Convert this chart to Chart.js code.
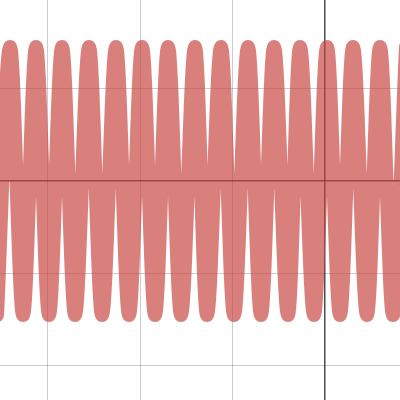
<!DOCTYPE html>
<html>
<head>
<meta charset="utf-8">
<script src="https://cdn.jsdelivr.net/npm/chart.js@4"></script>
<style>
  html, body { margin: 0; padding: 0; background: #fff; }
  #wrap { width: 400px; height: 400px; }
</style>
</head>
<body>
<div id="wrap"><canvas id="plot"></canvas></div>
<script>
// extremes of the wave (x in grid units, y in grid units)
const extremeX = [-3.546, -3.405, -3.265, -3.124, -2.984, -2.843, -2.703, -2.551,
  -2.411, -2.259, -2.119, -1.978, -1.838, -1.697, -1.557, -1.405, -1.276, -1.124,
  -0.984, -0.832, -0.692, -0.551, -0.400, -0.270, -0.119, 0.022, 0.162, 0.303,
  0.454, 0.595, 0.735, 0.876];
const extremeY = [-1.45, 1.45, -1.45, 1.45, -1.45, 1.45, -1.45, 1.45,
  -1.45, 1.45, -1.45, 1.45, -1.45, 1.45, -1.45, 1.45, -1.45, 1.45,
  -1.45, 1.45, -1.45, 1.45, -1.45, 1.45, -1.45, 1.45, -1.45, 1.45,
  -1.45, 1.45, -1.45, 1.45];

// visible window and grid lines
const xRange = [-3.514, 0.811];
const yRange = [-2.368, 1.957];
const xGrid = [-3, -2, -1, 0];
const yGrid = [-2, -1, 0, 1];

const points = extremeX.map((x, i) => ({ x: x, y: extremeY[i] }));

const gridColor = ctx => ctx.tick && ctx.tick.value === 0 ? 'rgba(0,0,0,0.7)' : 'rgba(0,0,0,0.2)';
const gridWidth = ctx => ctx.tick && ctx.tick.value === 0 ? 1.5 : 1;

new Chart(document.getElementById('plot'), {
    type: 'line',
    data: {
        datasets: [{
            data: points,
            borderColor: 'rgba(199, 68, 64, 0.68)',
            borderWidth: 14,
            borderCapStyle: 'round',
            borderJoinStyle: 'round',
            cubicInterpolationMode: 'monotone',
            pointRadius: 0,
            fill: false
        }]
    },
    options: {
        responsive: true, maintainAspectRatio: false,
        animation: false,
        layout: { padding: 0 },
        plugins: { legend: { display: false }, tooltip: { enabled: false } },
        scales: {
            x: {
                type: 'linear', min: xRange[0], max: xRange[1],
                ticks: { display: false },
                afterBuildTicks: axis => { axis.ticks = xGrid.map(v => ({ value: v })); },
                border: { display: false },
                grid: { color: gridColor, lineWidth: gridWidth, drawTicks: false }
            },
            y: {
                type: 'linear', min: yRange[0], max: yRange[1],
                ticks: { display: false },
                afterBuildTicks: axis => { axis.ticks = yGrid.map(v => ({ value: v })); },
                border: { display: false },
                grid: { color: gridColor, lineWidth: gridWidth, drawTicks: false }
            }
        }
    }
});
</script>
</body>
</html>
